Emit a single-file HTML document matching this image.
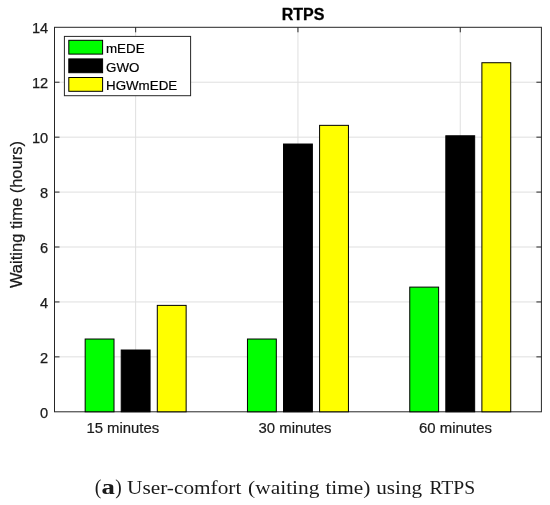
<!DOCTYPE html>
<html><head><meta charset="utf-8"><title>RTPS</title>
<style>
html,body{margin:0;padding:0;background:#fff;}
body{width:550px;height:505px;position:relative;overflow:hidden;font-family:"Liberation Sans",sans-serif;}
svg text{font-family:"Liberation Sans",sans-serif;}
</style></head><body>
<svg width="550" height="505" viewBox="0 0 550 505" style="position:absolute;left:0;top:0">
<rect x="0" y="0" width="550" height="505" fill="#fff"/>
<line x1="54.5" x2="541.4" y1="356.87" y2="356.87" stroke="#dfdfdf" stroke-width="1"/>
<line x1="54.5" x2="541.4" y1="301.94" y2="301.94" stroke="#dfdfdf" stroke-width="1"/>
<line x1="54.5" x2="541.4" y1="247.01" y2="247.01" stroke="#dfdfdf" stroke-width="1"/>
<line x1="54.5" x2="541.4" y1="192.09" y2="192.09" stroke="#dfdfdf" stroke-width="1"/>
<line x1="54.5" x2="541.4" y1="137.16" y2="137.16" stroke="#dfdfdf" stroke-width="1"/>
<line x1="54.5" x2="541.4" y1="82.23" y2="82.23" stroke="#dfdfdf" stroke-width="1"/>
<line x1="135.65" x2="135.65" y1="27.3" y2="411.8" stroke="#dfdfdf" stroke-width="1"/>
<line x1="297.95" x2="297.95" y1="27.3" y2="411.8" stroke="#dfdfdf" stroke-width="1"/>
<line x1="460.25" x2="460.25" y1="27.3" y2="411.8" stroke="#dfdfdf" stroke-width="1"/>
<rect x="54.5" y="27.3" width="486.90" height="384.50" fill="none" stroke="#262626" stroke-width="1"/>
<line x1="54.5" x2="59.5" y1="356.87" y2="356.87" stroke="#262626" stroke-width="1"/>
<line x1="541.4" x2="536.4" y1="356.87" y2="356.87" stroke="#262626" stroke-width="1"/>
<line x1="54.5" x2="59.5" y1="301.94" y2="301.94" stroke="#262626" stroke-width="1"/>
<line x1="541.4" x2="536.4" y1="301.94" y2="301.94" stroke="#262626" stroke-width="1"/>
<line x1="54.5" x2="59.5" y1="247.01" y2="247.01" stroke="#262626" stroke-width="1"/>
<line x1="541.4" x2="536.4" y1="247.01" y2="247.01" stroke="#262626" stroke-width="1"/>
<line x1="54.5" x2="59.5" y1="192.09" y2="192.09" stroke="#262626" stroke-width="1"/>
<line x1="541.4" x2="536.4" y1="192.09" y2="192.09" stroke="#262626" stroke-width="1"/>
<line x1="54.5" x2="59.5" y1="137.16" y2="137.16" stroke="#262626" stroke-width="1"/>
<line x1="541.4" x2="536.4" y1="137.16" y2="137.16" stroke="#262626" stroke-width="1"/>
<line x1="54.5" x2="59.5" y1="82.23" y2="82.23" stroke="#262626" stroke-width="1"/>
<line x1="541.4" x2="536.4" y1="82.23" y2="82.23" stroke="#262626" stroke-width="1"/>
<line x1="135.65" x2="135.65" y1="27.3" y2="32.3" stroke="#262626" stroke-width="1"/>
<line x1="135.65" x2="135.65" y1="411.8" y2="406.8" stroke="#262626" stroke-width="1"/>
<line x1="297.95" x2="297.95" y1="27.3" y2="32.3" stroke="#262626" stroke-width="1"/>
<line x1="297.95" x2="297.95" y1="411.8" y2="406.8" stroke="#262626" stroke-width="1"/>
<line x1="460.25" x2="460.25" y1="27.3" y2="32.3" stroke="#262626" stroke-width="1"/>
<line x1="460.25" x2="460.25" y1="411.8" y2="406.8" stroke="#262626" stroke-width="1"/>
<rect x="85.16" y="339.02" width="28.85" height="72.78" fill="#00ff00" stroke="#000" stroke-width="1"/>
<rect x="121.22" y="350.01" width="28.85" height="61.79" fill="#000000" stroke="#000" stroke-width="1"/>
<rect x="157.29" y="305.38" width="28.85" height="106.42" fill="#ffff00" stroke="#000" stroke-width="1"/>
<rect x="247.46" y="339.02" width="28.85" height="72.78" fill="#00ff00" stroke="#000" stroke-width="1"/>
<rect x="283.52" y="144.02" width="28.85" height="267.78" fill="#000000" stroke="#000" stroke-width="1"/>
<rect x="319.59" y="125.35" width="28.85" height="286.45" fill="#ffff00" stroke="#000" stroke-width="1"/>
<rect x="409.76" y="287.11" width="28.85" height="124.69" fill="#00ff00" stroke="#000" stroke-width="1"/>
<rect x="445.82" y="135.78" width="28.85" height="276.02" fill="#000000" stroke="#000" stroke-width="1"/>
<rect x="481.89" y="62.73" width="28.85" height="349.07" fill="#ffff00" stroke="#000" stroke-width="1"/>
<text x="48.2" y="417.60" text-anchor="end" font-size="14.6" fill="#1a1a1a" stroke="#1a1a1a" stroke-width="0.25">0</text>
<text x="48.2" y="362.67" text-anchor="end" font-size="14.6" fill="#1a1a1a" stroke="#1a1a1a" stroke-width="0.25">2</text>
<text x="48.2" y="307.74" text-anchor="end" font-size="14.6" fill="#1a1a1a" stroke="#1a1a1a" stroke-width="0.25">4</text>
<text x="48.2" y="252.81" text-anchor="end" font-size="14.6" fill="#1a1a1a" stroke="#1a1a1a" stroke-width="0.25">6</text>
<text x="48.2" y="197.89" text-anchor="end" font-size="14.6" fill="#1a1a1a" stroke="#1a1a1a" stroke-width="0.25">8</text>
<text x="48.2" y="142.96" text-anchor="end" font-size="14.6" fill="#1a1a1a" stroke="#1a1a1a" stroke-width="0.25">10</text>
<text x="48.2" y="88.03" text-anchor="end" font-size="14.6" fill="#1a1a1a" stroke="#1a1a1a" stroke-width="0.25">12</text>
<text x="48.2" y="33.10" text-anchor="end" font-size="14.6" fill="#1a1a1a" stroke="#1a1a1a" stroke-width="0.25">14</text>
<text x="122.8" y="433.0" text-anchor="middle" font-size="14.9" fill="#1a1a1a" stroke="#1a1a1a" stroke-width="0.2">15 minutes</text>
<text x="295.0" y="433.0" text-anchor="middle" font-size="14.9" fill="#1a1a1a" stroke="#1a1a1a" stroke-width="0.2">30 minutes</text>
<text x="455.5" y="433.0" text-anchor="middle" font-size="14.9" fill="#1a1a1a" stroke="#1a1a1a" stroke-width="0.2">60 minutes</text>
<text transform="translate(22.3,214.6) rotate(-90)" text-anchor="middle" font-size="16.5" fill="#1a1a1a" stroke="#1a1a1a" stroke-width="0.2">Waiting time (hours)</text>
<text x="303.1" y="19.6" text-anchor="middle" font-size="16" font-weight="bold" fill="#000" stroke="#000" stroke-width="0.3">RTPS</text>
<rect x="64.4" y="36.4" width="126.2" height="59.3" fill="#fff" stroke="#262626" stroke-width="1"/>
<rect x="68.8" y="40.30" width="33.8" height="13.8" fill="#00ff00" stroke="#000" stroke-width="1"/>
<text x="106" y="52.80" font-size="13.35" fill="#000" stroke="#000" stroke-width="0.2">mEDE</text>
<rect x="68.8" y="58.90" width="33.8" height="13.8" fill="#000000" stroke="#000" stroke-width="1"/>
<text x="106" y="71.90" font-size="13.35" fill="#000" stroke="#000" stroke-width="0.2">GWO</text>
<rect x="68.8" y="77.50" width="33.8" height="13.8" fill="#ffff00" stroke="#000" stroke-width="1"/>
<text x="106" y="90.00" font-size="13.35" fill="#000" stroke="#000" stroke-width="0.2">HGWmEDE</text>
<text y="494" font-size="19" fill="#1a1a1a" style="font-family:'Liberation Serif',serif"><tspan x="94.7" textLength="6.6" lengthAdjust="spacingAndGlyphs" font-size="21.9">(</tspan><tspan x="101.6" textLength="13.4" lengthAdjust="spacingAndGlyphs" font-weight="bold" font-size="20.5">a</tspan><tspan x="115.2" textLength="6.5" lengthAdjust="spacingAndGlyphs" font-size="21.9">)</tspan> <tspan x="127.1" textLength="114.2" lengthAdjust="spacingAndGlyphs">User-comfort</tspan> <tspan x="248.1" textLength="71.4" lengthAdjust="spacingAndGlyphs">(waiting</tspan> <tspan x="325.4" textLength="44.9" lengthAdjust="spacingAndGlyphs">time)</tspan> <tspan x="376.2" textLength="45.9" lengthAdjust="spacingAndGlyphs">using</tspan> <tspan x="429.4" textLength="45.7" lengthAdjust="spacingAndGlyphs">RTPS</tspan> </text>
</svg>
</body></html>
